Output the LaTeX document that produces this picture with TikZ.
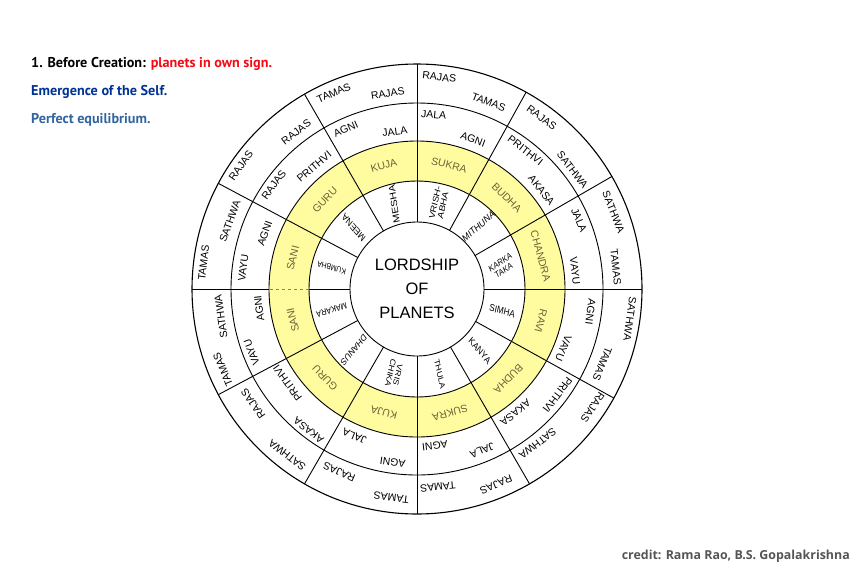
\documentclass[tikz,border=0pt]{standalone}
\usepackage{fontspec}
\setmainfont{Liberation Sans}
\newfontfamily\headfont{PT Sans}
\newfontfamily\creditfont{Open Sans}
\definecolor{ringyellow}{RGB}{255,252,160}
\definecolor{planettext}{RGB}{105,100,55}
\definecolor{headred}{RGB}{245,10,20}
\definecolor{headblue}{RGB}{0,50,150}
\definecolor{headsteel}{RGB}{50,100,160}
\definecolor{creditgray}{RGB}{85,85,85}
\tikzset{
  ring/.style={line width=0.9pt},
  spoke/.style={line width=0.9pt},
  signlabel/.style={inner sep=0pt, align=center, xscale=0.82, font=\fontsize{#1}{#1}\selectfont},
  planetlabel/.style={inner sep=0pt, text=planettext, font=\fontsize{10.5}{10.5}\selectfont},
  elemlabel/.style={inner sep=0pt, font=\fontsize{10.5}{10.5}\selectfont},
  headline/.style={anchor=base west, inner sep=0pt, font=\headfont\bfseries\fontsize{14.2}{16}\selectfont}
}
\begin{document}
\begin{tikzpicture}[x=1pt,y=1pt]
\useasboundingbox (0,0) rectangle (864,-576);
% header and credit
\node[headline] (title) at (31,-67) {1. Before Creation: \textcolor{headred}{planets in own sign.}};
\node[headline, text=headblue] (self) at (31,-95) {Emergence of the Self.};
\node[headline, text=headsteel] (equil) at (31,-123) {Perfect equilibrium.};
\node[anchor=base east, inner sep=0pt, text=creditgray, font=\creditfont\bfseries\fontsize{12.4}{14}\selectfont] (credit) at (850,-559) {credit: Rama Rao, B.S. Gopalakrishna};
\begin{scope}[shift={(417,-289)}]
% rings and spokes
\fill[ringyellow, even odd rule] (0,0) circle (148) circle (108);
\foreach \r in {67,108,148,186} \draw[ring] (0,0) circle (\r);
\draw[ring, line width=1.1pt] (0,0) circle (225);
\foreach \a in {0,30,61,90,120,152,208,240,270,300,331} \draw[spoke] (\a:67) -- (\a:225);
\draw[spoke] (180:67) -- (180:108) (180:148) -- (180:225);
\draw[gray, dashed, line width=0.6pt] (180:108) -- (180:148);
\node[align=center, font=\fontsize{16.5}{24}\selectfont] (lordship) at (0,0) {LORDSHIP\\OF\\PLANETS};
% signs
\foreach \a/\rot/\t/\s [count=\i] in {15/28/{KARKA\\TAKA}/9, 45.5/35/MITHUNA/10, 75.5/75.5/{VRISH-\\ABHA}/10,
    105/100/MESHA/10.8, 136/136/MEENA/10, 166/166/KUMBHA/8.3, 194/194/MAKARA/9, 224/224/DHANUS/9.5,
    255/255/{VRIS\\CHIKA}/9.3, 285/285/THULA/9.2, 315.5/315.5/KANYA/10, 345.5/345.5/SIMHA/10}
  \node[signlabel=\s, rotate=\rot] (sign-\i) at (\a:88) {\t};
% planets
\foreach \a/\t [count=\i] in {15/CHANDRA, 45.5/BUDHA, 75.5/SUKRA, 105/KUJA, 136/GURU, 166/SANI,
    194/SANI, 224/GURU, 255/KUJA, 285/SUKRA, 315.5/BUDHA, 345.5/RAVI}
  \node[planetlabel, rotate=\a-90] (planet-\i) at (\a:128) {\t};
% elements
\foreach \a/\t/\r [count=\i] in {6.5/VAYU/159, 23/JALA/176, 38.5/AKASA/159, 52/PRITHVI/176, 69.5/AGNI/160,
    84.5/JALA/175, 98/JALA/159, 114/AGNI/175, 130/PRITHVI/160, 144/RAJAS/177, 160/AGNI/162, 173/VAYU/175,
    187/AGNI/159, 201/VAYU/177, 216/PRITHVI/160, 232.5/AKASA/178, 247/JALA/160, 262/AGNI/175,
    276.5/AGNI/158, 292/JALA/174, 308.5/AKASA/158, 323/PRITHVI/176, 338/VAYU/158, 352.5/AGNI/175}
  \node[elemlabel, rotate=\a-90] (elem-\i) at (\a:\r) {\t};
% gunas
\foreach \a/\t/\r [count=\i] in {6.3/TAMAS/200, 21.4/SATHWA/211, 37.5/SATHWA/196, 54/RAJAS/212, 69/TAMAS/200,
    84/RAJAS/213, 98.5/RAJAS/198, 113/TAMAS/213, 127.6/RAJAS/198, 145/RAJAS/215, 160/SATHWA/199,
    173/TAMAS/215, 188/SATHWA/198, 202.5/TAMAS/210, 215/RAJAS/200, 232/SATHWA/211, 247/RAJAS/199,
    263/TAMAS/210, 276/TAMAS/199, 292/RAJAS/211, 308/SATHWA/196, 326/RAJAS/212, 338/TAMAS/200, 352/SATHWA/215}
  \node[elemlabel, rotate=\a-90] (guna-\i) at (\a:\r) {\t};
\end{scope}
\end{tikzpicture}
\end{document}
